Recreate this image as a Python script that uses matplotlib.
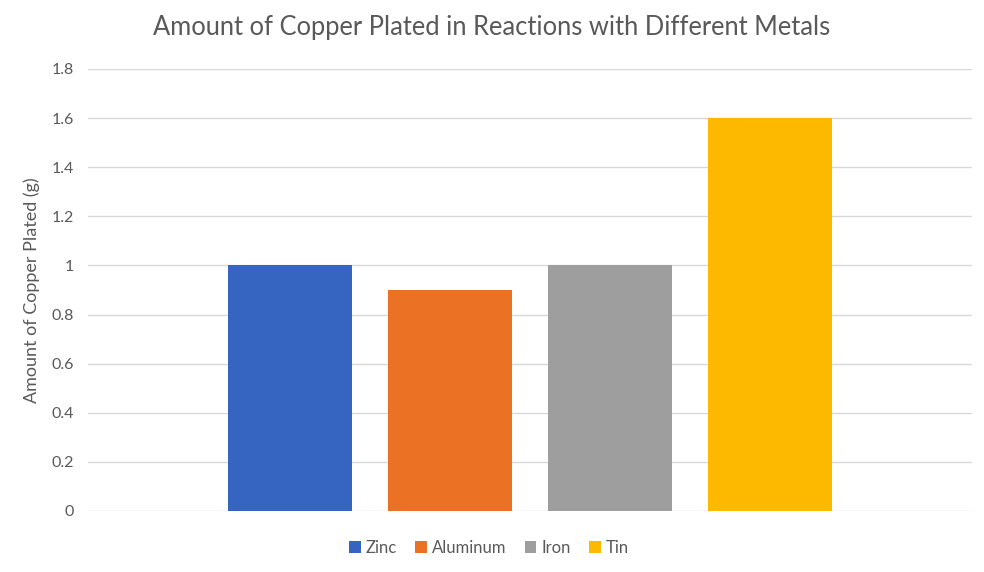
import matplotlib.pyplot as plt
from matplotlib.patches import Patch

metals = ['Zinc', 'Aluminum', 'Iron', 'Tin']
copper_g = [1.0, 0.9, 1.0, 1.6]
colors = ['#3565C0', '#EB7125', '#9E9E9E', '#FDB900']
yticks = [0, 0.2, 0.4, 0.6, 0.8, 1, 1.2, 1.4, 1.6, 1.8]
ytick_labels = ['0', '0.2', '0.4', '0.6', '0.8', '1', '1.2', '1.4', '1.6', '1.8']

plt.rcParams['font.family'] = ['Lato', 'DejaVu Sans']
txt = '#595959'

fig = plt.figure(figsize=(9.84, 5.72), dpi=100)
ax = fig.add_axes([88/984, 1-511/572, 884/984, 442/572])

pos = list(range(len(metals)))
ax.bar(pos, copper_g, width=0.78, color=colors, zorder=3)

ax.set_xlim(1.5-2.7625, 1.5+2.7625)
ax.set_ylim(0, 1.8)
ax.set_yticks(yticks)
ax.set_yticklabels(ytick_labels)
ax.set_xticks([])
ax.grid(axis='y', color='#D9D9D9', linewidth=1, zorder=0)
for s in ax.spines.values():
    s.set_visible(False)
ax.tick_params(axis='y', length=0, pad=10, labelsize=11.5, labelcolor=txt)
ax.set_ylabel('Amount of Copper Plated (g)', fontsize=13, color=txt)
ax.yaxis.set_label_coords((40-88)/884, 0.5)

fig.text(492/984, 1-28/572, 'Amount of Copper Plated in Reactions with Different Metals',
         ha='center', va='center', fontsize=18.4, color=txt)

handles = [Patch(facecolor=c, label=m) for m, c in zip(metals, colors)]
fig.legend(handles=handles, loc='center', bbox_to_anchor=(489/984, 1-548/572), ncol=4,
           frameon=False, fontsize=12, labelcolor=txt, handlelength=0.7, handleheight=0.7,
           handletextpad=0.3, columnspacing=1.1)

plt.savefig('out.png')
